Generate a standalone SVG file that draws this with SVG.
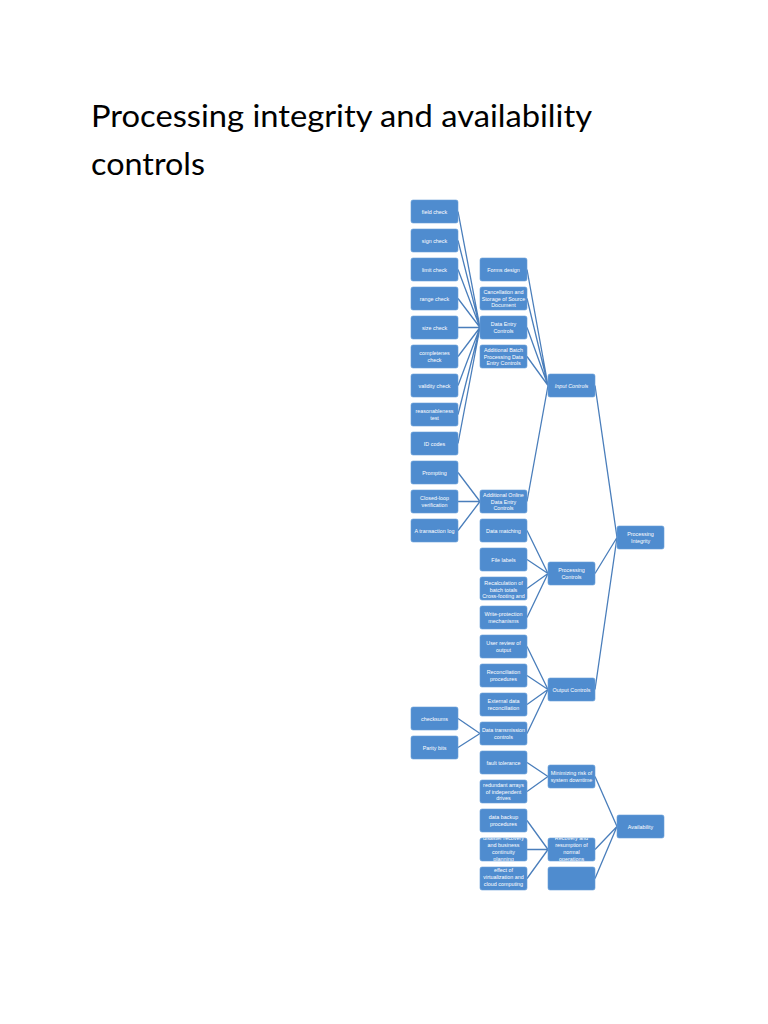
<svg xmlns="http://www.w3.org/2000/svg" width="768" height="1024" viewBox="0 0 768 1024">
<style>
.b{fill:#4F8CCF;stroke:#6A9FD8;stroke-width:0.6}
.t{font-family:"Liberation Sans",Arial,sans-serif;font-size:5.4px;fill:#ffffff;text-anchor:middle}
.c{stroke:#4A7EBB;stroke-width:1.3;fill:none}
.title{font-family:Lato,"Liberation Sans",Arial,sans-serif;font-size:31px;fill:#000000}
</style>
<defs>
<clipPath id="clipDR"><rect x="480" y="838" width="47" height="23"/></clipPath>
<clipPath id="clipRR"><rect x="548" y="838" width="47" height="23"/></clipPath>
<clipPath id="clipRC"><rect x="480" y="577" width="47" height="23"/></clipPath>
</defs>
<rect width="768" height="1024" fill="#ffffff"/>
<text class="title" x="91" y="127" textLength="501" lengthAdjust="spacingAndGlyphs">Processing integrity and availability</text>
<text class="title" x="91" y="175" textLength="114" lengthAdjust="spacingAndGlyphs">controls</text>

<g id="connectors">
<path class="c" d="M458,211.5L480,327.5M458,240.5L480,327.5M458,269.5L480,327.5M458,298.5L480,327.5M458,327.5L480,327.5M458,356.5L480,327.5M458,385.5L480,327.5M458,414.5L480,327.5M458,443.5L480,327.5"/>
<path class="c" d="M458,472.5L480,501.5M458,501.5L480,501.5M458,530.5L480,501.5"/>
<path class="c" d="M458,718.5L480,733.5M458,747.5L480,733.5"/>
<path class="c" d="M527,269.5L548,385.5M527,298.5L548,385.5M527,327.5L548,385.5M527,356.5L548,385.5M527,501.5L548,385.5"/>
<path class="c" d="M527,530.5L548,573.5M527,559.5L548,573.5M527,588.5L548,573.5M527,617.5L548,573.5"/>
<path class="c" d="M527,646.5L548,689.5M527,675.5L548,689.5M527,704.5L548,689.5M527,733.5L548,689.5"/>
<path class="c" d="M527,762.5L548,776.5M527,791.5L548,776.5"/>
<path class="c" d="M527,820.5L548,849.5M527,849.5L548,849.5M527,878.5L548,849.5"/>
<path class="c" d="M595,385.5L617,537.5M595,573.5L617,537.5M595,689.5L617,537.5"/>
<path class="c" d="M595,776.5L617,826.5M595,849.5L617,826.5M595,878.5L617,826.5"/>
</g>

<g id="n-field"><rect class="b" x="411" y="200" width="47" height="23" rx="2"/><text class="t" x="434.5" y="213.5">field check</text></g>
<g id="n-sign"><rect class="b" x="411" y="229" width="47" height="23" rx="2"/><text class="t" x="434.5" y="242.5">sign check</text></g>
<g id="n-limit"><rect class="b" x="411" y="258" width="47" height="23" rx="2"/><text class="t" x="434.5" y="271.5">limit check</text></g>
<g id="n-range"><rect class="b" x="411" y="287" width="47" height="23" rx="2"/><text class="t" x="434.5" y="300.5">range check</text></g>
<g id="n-size"><rect class="b" x="411" y="316" width="47" height="23" rx="2"/><text class="t" x="434.5" y="329.5">size check</text></g>
<g id="n-complete"><rect class="b" x="411" y="345" width="47" height="23" rx="2"/><text class="t" x="434.5" y="355"><tspan x="434.5">completenes</tspan><tspan x="434.5" dy="7">check</tspan></text></g>
<g id="n-validity"><rect class="b" x="411" y="374" width="47" height="23" rx="2"/><text class="t" x="434.5" y="387.5">validity check</text></g>
<g id="n-reason"><rect class="b" x="411" y="403" width="47" height="23" rx="2"/><text class="t" x="434.5" y="413"><tspan x="434.5">reasonableness</tspan><tspan x="434.5" dy="7">test</tspan></text></g>
<g id="n-id"><rect class="b" x="411" y="432" width="47" height="23" rx="2"/><text class="t" x="434.5" y="445.5">ID codes</text></g>
<g id="n-prompt"><rect class="b" x="411" y="461" width="47" height="23" rx="2"/><text class="t" x="434.5" y="474.5">Prompting</text></g>
<g id="n-closed"><rect class="b" x="411" y="490" width="47" height="23" rx="2"/><text class="t" x="434.5" y="500"><tspan x="434.5">Closed-loop</tspan><tspan x="434.5" dy="7">verification</tspan></text></g>
<g id="n-log"><rect class="b" x="411" y="519" width="47" height="23" rx="2"/><text class="t" x="434.5" y="532.5">A transaction log</text></g>
<g id="n-checksums"><rect class="b" x="411" y="707" width="47" height="23" rx="2"/><text class="t" x="434.5" y="720.5">checksums</text></g>
<g id="n-parity"><rect class="b" x="411" y="736" width="47" height="23" rx="2"/><text class="t" x="434.5" y="749.5">Parity bits</text></g>

<g id="n-forms"><rect class="b" x="480" y="258" width="47" height="23" rx="2"/><text class="t" x="503.5" y="271.5">Forms design</text></g>
<g id="n-cancel"><rect class="b" x="480" y="287" width="47" height="23" rx="2"/><text class="t" x="503.5" y="294"><tspan x="503.5">Cancellation and</tspan><tspan x="503.5" dy="6.7">Storage of Source</tspan><tspan x="503.5" dy="6.7">Document</tspan></text></g>
<g id="n-dataentry"><rect class="b" x="480" y="316" width="47" height="23" rx="2"/><text class="t" x="503.5" y="326"><tspan x="503.5">Data Entry</tspan><tspan x="503.5" dy="7">Controls</tspan></text></g>
<g id="n-batch"><rect class="b" x="480" y="345" width="47" height="23" rx="2"/><text class="t" x="503.5" y="352"><tspan x="503.5">Additional Batch</tspan><tspan x="503.5" dy="6.7">Processing Data</tspan><tspan x="503.5" dy="6.7">Entry Controls</tspan></text></g>
<g id="n-online"><rect class="b" x="480" y="490" width="47" height="23" rx="2"/><text class="t" x="503.5" y="497"><tspan x="503.5">Additional Online</tspan><tspan x="503.5" dy="6.7">Data Entry</tspan><tspan x="503.5" dy="6.7">Controls</tspan></text></g>
<g id="n-matching"><rect class="b" x="480" y="519" width="47" height="23" rx="2"/><text class="t" x="503.5" y="532.5">Data matching</text></g>
<g id="n-labels"><rect class="b" x="480" y="548" width="47" height="23" rx="2"/><text class="t" x="503.5" y="561.5">File labels</text></g>
<g id="n-recalc"><rect class="b" x="480" y="577" width="47" height="23" rx="2"/><text class="t" x="503.5" y="585" clip-path="url(#clipRC)"><tspan x="503.5">Recalculation of</tspan><tspan x="503.5" dy="7">batch totals</tspan><tspan x="503.5" dy="6">Cross-footing and</tspan></text></g>
<g id="n-write"><rect class="b" x="480" y="606" width="47" height="23" rx="2"/><text class="t" x="503.5" y="616"><tspan x="503.5">Write-protection</tspan><tspan x="503.5" dy="7">mechanisms</tspan></text></g>
<g id="n-review"><rect class="b" x="480" y="635" width="47" height="23" rx="2"/><text class="t" x="503.5" y="645"><tspan x="503.5">User review of</tspan><tspan x="503.5" dy="7">output</tspan></text></g>
<g id="n-recon"><rect class="b" x="480" y="664" width="47" height="23" rx="2"/><text class="t" x="503.5" y="674"><tspan x="503.5">Reconciliation</tspan><tspan x="503.5" dy="7">procedures</tspan></text></g>
<g id="n-external"><rect class="b" x="480" y="693" width="47" height="23" rx="2"/><text class="t" x="503.5" y="703"><tspan x="503.5">External data</tspan><tspan x="503.5" dy="7">reconciliation</tspan></text></g>
<g id="n-transmission"><rect class="b" x="480" y="722" width="47" height="23" rx="2"/><text class="t" x="503.5" y="732"><tspan x="503.5">Data transmission</tspan><tspan x="503.5" dy="7">controls</tspan></text></g>
<g id="n-fault"><rect class="b" x="480" y="751" width="47" height="23" rx="2"/><text class="t" x="503.5" y="764.5">fault tolerance</text></g>
<g id="n-raid"><rect class="b" x="480" y="780" width="47" height="23" rx="2"/><text class="t" x="503.5" y="787"><tspan x="503.5">redundant arrays</tspan><tspan x="503.5" dy="6.7">of independent</tspan><tspan x="503.5" dy="6.7">drives</tspan></text></g>
<g id="n-backup"><rect class="b" x="480" y="809" width="47" height="23" rx="2"/><text class="t" x="503.5" y="819"><tspan x="503.5">data backup</tspan><tspan x="503.5" dy="7">procedures</tspan></text></g>
<g id="n-disaster"><rect class="b" x="480" y="838" width="47" height="23" rx="2"/><text class="t" x="503.5" y="840" clip-path="url(#clipDR)"><tspan x="503.5">disaster recovery</tspan><tspan x="503.5" dy="7">and business</tspan><tspan x="503.5" dy="7">continuity</tspan><tspan x="503.5" dy="7">planning</tspan></text></g>
<g id="n-virtual"><rect class="b" x="480" y="867" width="47" height="23" rx="2"/><text class="t" x="503.5" y="872"><tspan x="503.5">effect of</tspan><tspan x="503.5" dy="7">virtualization and</tspan><tspan x="503.5" dy="7">cloud computing</tspan></text></g>

<g id="n-input"><rect class="b" x="548" y="374" width="47" height="23" rx="2"/><text class="t" x="571.5" y="387.5" font-style="italic">Input Controls</text></g>
<g id="n-processing"><rect class="b" x="548" y="562" width="47" height="23" rx="2"/><text class="t" x="571.5" y="572"><tspan x="571.5">Processing</tspan><tspan x="571.5" dy="7">Controls</tspan></text></g>
<g id="n-output"><rect class="b" x="548" y="678" width="47" height="23" rx="2"/><text class="t" x="571.5" y="691.5">Output Controls</text></g>
<g id="n-minimize"><rect class="b" x="548" y="765" width="47" height="23" rx="2"/><text class="t" x="571.5" y="775"><tspan x="571.5">Minimizing risk of</tspan><tspan x="571.5" dy="7">system downtime</tspan></text></g>
<g id="n-recovery"><rect class="b" x="548" y="838" width="47" height="23" rx="2"/><text class="t" x="571.5" y="840" clip-path="url(#clipRR)"><tspan x="571.5">Recovery and</tspan><tspan x="571.5" dy="7">resumption of</tspan><tspan x="571.5" dy="7">normal</tspan><tspan x="571.5" dy="7">operations</tspan></text></g>
<g id="n-blank"><rect class="b" x="548" y="867" width="47" height="23" rx="2"/></g>

<g id="n-integrity"><rect class="b" x="617" y="526" width="47" height="23" rx="2"/><text class="t" x="640.5" y="536"><tspan x="640.5">Processing</tspan><tspan x="640.5" dy="7">Integrity</tspan></text></g>
<g id="n-availability"><rect class="b" x="617" y="815" width="47" height="23" rx="2"/><text class="t" x="640.5" y="828.5">Availability</text></g>
</svg>
